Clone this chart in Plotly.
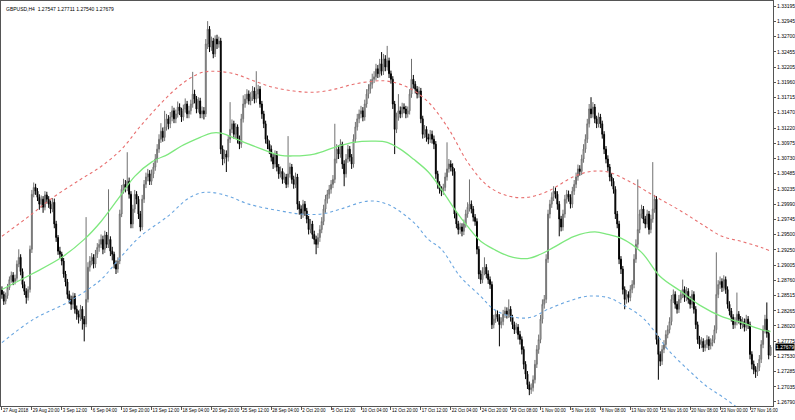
import plotly.graph_objects as go

# ---------------- data (GBPUSD H4) ----------------
opens = [
1.2860,1.2853,1.2842,1.2851,1.2864,1.2877,1.2884,1.2874,1.2879,1.2902,
1.2913,1.2890,1.2869,1.2858,1.2848,1.2861,1.2926,1.3015,1.3026,1.3020,
1.3010,1.2999,1.3007,1.2994,1.3014,1.3007,1.2999,1.2991,1.3002,1.2967,
1.2945,1.2923,1.2918,1.2907,1.2886,1.2873,1.2853,1.2845,1.2837,1.2850,
1.2829,1.2821,1.2816,1.2829,1.2813,1.2805,1.2845,1.2897,1.2907,1.2913,
1.2902,1.2918,1.2929,1.2934,1.2942,1.2926,1.2949,1.2934,1.2942,1.2923,
1.2918,1.2902,1.2894,1.2907,1.2983,1.3023,1.3031,1.3026,1.3036,1.3015,
1.2967,1.2991,1.3015,1.3007,1.2983,1.2962,1.3007,1.3031,1.3043,1.3048,
1.3036,1.3048,1.3059,1.3072,1.3088,1.3104,1.3117,1.3107,1.3124,1.3137,
1.3129,1.3140,1.3150,1.3137,1.3145,1.3156,1.3150,1.3140,1.3153,1.3161,
1.3145,1.3150,1.3161,1.3177,1.3169,1.3153,1.3166,1.3145,1.3150,1.3145,
1.3258,1.3282,1.3253,1.3263,1.3242,1.3266,1.3258,1.3263,1.3088,1.3072,
1.3080,1.3075,1.3104,1.3120,1.3129,1.3112,1.3124,1.3104,1.3096,1.3137,
1.3161,1.3169,1.3177,1.3166,1.3172,1.3182,1.3169,1.3177,1.3185,1.3161,
1.3145,1.3129,1.3104,1.3096,1.3088,1.3075,1.3064,1.3080,1.3059,1.3048,
1.3052,1.3039,1.3043,1.3031,1.3048,1.3059,1.3039,1.3031,1.3043,1.2999,
1.2991,1.2983,1.2999,1.2988,1.2975,1.2958,1.2967,1.2950,1.2942,1.2934,
1.2945,1.2958,1.2971,1.2991,1.3007,1.3015,1.3023,1.3031,1.3039,1.3072,
1.3088,1.3080,1.3096,1.3064,1.3048,1.3072,1.3088,1.3075,1.3064,1.3104,
1.3124,1.3137,1.3145,1.3150,1.3140,1.3161,1.3177,1.3185,1.3193,1.3201,
1.3205,1.3218,1.3210,1.3226,1.3214,1.3234,1.3221,1.3231,1.3210,1.3201,
1.3161,1.3120,1.3140,1.3150,1.3145,1.3156,1.3153,1.3145,1.3150,1.3177,
1.3201,1.3193,1.3185,1.3177,1.3182,1.3137,1.3112,1.3120,1.3107,1.3104,
1.3112,1.3104,1.3096,1.3048,1.3031,1.3023,1.3020,1.3026,1.3043,1.3056,
1.3064,1.3059,1.3052,1.2983,1.2967,1.2958,1.2962,1.2955,1.2967,1.2983,
1.2994,1.2999,1.2991,1.2978,1.2971,1.2926,1.2886,1.2877,1.2890,1.2897,
1.2886,1.2877,1.2869,1.2804,1.2813,1.2821,1.2816,1.2804,1.2809,1.2821,
1.2826,1.2821,1.2829,1.2816,1.2804,1.2796,1.2800,1.2788,1.2780,1.2764,
1.2740,1.2724,1.2707,1.2699,1.2702,1.2715,1.2740,1.2764,1.2780,1.2813,
1.2837,1.2845,1.2910,1.2983,1.2999,1.3010,1.3020,1.3015,1.2999,1.2975,
1.2962,1.2983,1.3007,1.3015,1.3010,1.2999,1.3020,1.3031,1.3043,1.3056,
1.3052,1.3072,1.3088,1.3104,1.3129,1.3153,1.3145,1.3156,1.3137,1.3129,
1.3140,1.3129,1.3112,1.3088,1.3072,1.3059,1.3043,1.3036,1.3023,1.2983,
1.2967,1.2910,1.2894,1.2861,1.2845,1.2853,1.2848,1.2861,1.2869,1.2910,
1.2934,1.2958,1.2983,1.2991,1.2975,1.2967,1.2983,1.2958,1.2975,1.2991,
1.3007,1.2780,1.2756,1.2745,1.2764,1.2772,1.2788,1.2796,1.2809,1.2845,
1.2853,1.2837,1.2829,1.2845,1.2853,1.2861,1.2848,1.2858,1.2845,1.2837,
1.2853,1.2829,1.2804,1.2780,1.2772,1.2777,1.2767,1.2772,1.2780,1.2770,
1.2775,1.2780,1.2796,1.2853,1.2869,1.2874,1.2864,1.2877,1.2861,1.2837,
1.2826,1.2816,1.2804,1.2809,1.2821,1.2813,1.2804,1.2809,1.2800,1.2813,
1.2804,1.2756,1.2740,1.2731,1.2728,1.2735,1.2748,1.2772,1.2796,1.2813,
1.2790,1.27547]

highs = [
1.2866,1.2858,1.2856,1.2870,1.2882,1.2890,1.2889,1.2885,1.2908,1.2926,
1.2918,1.2895,1.2874,1.2863,1.2866,1.2932,1.3022,1.3034,1.3032,1.3025,
1.3015,1.3013,1.3012,1.3020,1.3019,1.3012,1.3005,1.3009,1.3008,1.2972,
1.2949,1.2930,1.2922,1.2912,1.2891,1.2878,1.2859,1.2851,1.2856,1.2855,
1.2835,1.2827,1.2836,1.2834,1.2818,1.2978,1.2905,1.2915,1.2920,1.2918,
1.2925,1.2936,1.2942,1.2950,1.2948,1.2956,1.2954,1.3023,1.2947,1.2930,
1.2922,1.2908,1.2913,1.2990,1.3030,1.3040,1.3038,1.3083,1.3042,1.3020,
1.2998,1.3022,1.3020,1.3012,1.2988,1.3014,1.3038,1.3050,1.3056,1.3054,
1.3055,1.3066,1.3080,1.3096,1.3112,1.3130,1.3123,1.3150,1.3145,1.3143,
1.3148,1.3158,1.3155,1.3152,1.3165,1.3162,1.3155,1.3160,1.3170,1.3166,
1.3158,1.3168,1.3213,1.3184,1.3174,1.3172,1.3171,1.3157,1.3156,1.3266,
1.3295,1.3287,1.3270,1.3268,1.3272,1.3273,1.3270,1.3268,1.3094,1.3087,
1.3086,1.3110,1.3164,1.3136,1.3134,1.3130,1.3128,1.3110,1.3145,1.3175,
1.3177,1.3185,1.3183,1.3180,1.3190,1.3188,1.3214,1.3192,1.3190,1.3166,
1.3150,1.3134,1.3110,1.3102,1.3094,1.3080,1.3086,1.3085,1.3064,1.3060,
1.3057,1.3050,1.3048,1.3109,1.3066,1.3064,1.3045,1.3050,1.3048,1.3004,
1.2997,1.3006,1.3004,1.2993,1.2980,1.2975,1.2972,1.2956,1.2948,1.2952,
1.2965,1.2978,1.2998,1.3014,1.3022,1.3030,1.3038,1.3046,1.3129,1.3096,
1.3094,1.3104,1.3100,1.3070,1.3080,1.3095,1.3093,1.3080,1.3112,1.3132,
1.3145,1.3152,1.3158,1.3156,1.3168,1.3185,1.3193,1.3201,1.3210,1.3214,
1.3226,1.3224,1.3234,1.3245,1.3242,1.3240,1.3255,1.3236,1.3215,1.3206,
1.3166,1.3147,1.3177,1.3157,1.3163,1.3162,1.3158,1.3157,1.3185,1.3234,
1.3208,1.3198,1.3190,1.3189,1.3187,1.3142,1.3127,1.3125,1.3113,1.3119,
1.3118,1.3110,1.3101,1.3053,1.3036,1.3028,1.3032,1.3050,1.3099,1.3072,
1.3070,1.3065,1.3057,1.2988,1.2972,1.2969,1.2968,1.2974,1.2990,1.3002,
1.3039,1.3005,1.2996,1.2983,1.2976,1.2931,1.2892,1.2897,1.2913,1.2902,
1.2892,1.2882,1.2874,1.2820,1.2828,1.2827,1.2821,1.2816,1.2828,1.2833,
1.2832,1.2845,1.2834,1.2820,1.2809,1.2807,1.2805,1.2794,1.2785,1.2769,
1.2745,1.2729,1.2712,1.2709,1.2722,1.2747,1.2771,1.2788,1.2820,1.2845,
1.2852,1.2918,1.2990,1.3006,1.3018,1.3028,1.3026,1.3020,1.3004,1.2980,
1.2990,1.3014,1.3022,1.3021,1.3015,1.3027,1.3038,1.3050,1.3063,1.3062,
1.3079,1.3096,1.3112,1.3137,1.3161,1.3172,1.3164,1.3161,1.3142,1.3147,
1.3145,1.3134,1.3117,1.3093,1.3078,1.3064,1.3049,1.3041,1.3028,1.2988,
1.2972,1.2915,1.2899,1.2866,1.2860,1.2858,1.2868,1.2876,1.2918,1.2942,
1.3039,1.2990,1.2998,1.2996,1.2980,1.2990,1.2988,1.2982,1.3067,1.3014,
1.3012,1.2786,1.2761,1.2771,1.2779,1.2795,1.2803,1.2816,1.2852,1.2861,
1.2858,1.2842,1.2852,1.2860,1.2877,1.2866,1.2865,1.2863,1.2850,1.2860,
1.2858,1.2834,1.2809,1.2786,1.2784,1.2782,1.2779,1.2787,1.2785,1.2782,
1.2787,1.2803,1.2921,1.2876,1.2882,1.2879,1.2884,1.2882,1.2866,1.2842,
1.2831,1.2821,1.2816,1.2856,1.2826,1.2818,1.2816,1.2814,1.2820,1.2818,
1.2809,1.2761,1.2746,1.2737,1.2742,1.2755,1.2779,1.2803,1.2820,1.2840,
1.2795,1.27711]

lows = [
1.2846,1.2836,1.2837,1.2846,1.2860,1.2872,1.2868,1.2869,1.2875,1.2897,
1.2884,1.2863,1.2852,1.2838,1.2843,1.2856,1.2920,1.3010,1.3014,1.3004,
1.2990,1.2993,1.2985,1.2989,1.3000,1.2993,1.2984,1.2986,1.2960,1.2938,
1.2917,1.2911,1.2900,1.2880,1.2866,1.2846,1.2838,1.2828,1.2830,1.2822,
1.2812,1.2806,1.2810,1.2796,1.2777,1.2800,1.2840,1.2890,1.2900,1.2895,
1.2896,1.2912,1.2922,1.2928,1.2918,1.2920,1.2928,1.2928,1.2915,1.2908,
1.2895,1.2886,1.2888,1.2902,1.2978,1.3016,1.3018,1.3020,1.3008,1.2960,
1.2960,1.2985,1.2999,1.2975,1.2955,1.2957,1.3001,1.3025,1.3036,1.3030,
1.3030,1.3041,1.3053,1.3066,1.3082,1.3098,1.3100,1.3101,1.3118,1.3120,
1.3122,1.3133,1.3130,1.3130,1.3139,1.3143,1.3132,1.3134,1.3147,1.3138,
1.3138,1.3144,1.3155,1.3162,1.3146,1.3147,1.3138,1.3138,1.3136,1.3140,
1.3250,1.3245,1.3247,1.3235,1.3237,1.3250,1.3252,1.3080,1.3062,1.3065,
1.3051,1.3068,1.3098,1.3114,1.3105,1.3106,1.3097,1.3088,1.3090,1.3131,
1.3155,1.3162,1.3160,1.3159,1.3166,1.3162,1.3163,1.3170,1.3155,1.3137,
1.3122,1.3097,1.3088,1.3080,1.3068,1.3056,1.3058,1.3052,1.3040,1.3042,
1.3032,1.3033,1.3025,1.3026,1.3042,1.3032,1.3024,1.3025,1.2990,1.2982,
1.2975,1.2977,1.2980,1.2968,1.2950,1.2952,1.2943,1.2934,1.2918,1.2928,
1.2938,1.2952,1.2965,1.2985,1.3000,1.3008,1.3016,1.3025,1.3033,1.3065,
1.3072,1.3074,1.3056,1.3028,1.3042,1.3066,1.3068,1.3056,1.3058,1.3098,
1.3118,1.3130,1.3138,1.3133,1.3134,1.3155,1.3170,1.3178,1.3186,1.3195,
1.3199,1.3203,1.3204,1.3207,1.3208,1.3214,1.3215,1.3203,1.3194,1.3153,
1.3080,1.3114,1.3134,1.3138,1.3139,1.3146,1.3138,1.3139,1.3144,1.3171,
1.3186,1.3178,1.3170,1.3171,1.3130,1.3105,1.3106,1.3100,1.3096,1.3098,
1.3097,1.3088,1.3040,1.3024,1.3016,1.3012,1.3014,1.3020,1.3037,1.3050,
1.3052,1.3045,1.2976,1.2960,1.2950,1.2951,1.2947,1.2949,1.2961,1.2977,
1.2987,1.2984,1.2971,1.2964,1.2918,1.2878,1.2870,1.2871,1.2884,1.2879,
1.2870,1.2862,1.2797,1.2798,1.2807,1.2809,1.2769,1.2798,1.2803,1.2815,
1.2814,1.2815,1.2809,1.2797,1.2789,1.2790,1.2780,1.2772,1.2756,1.2732,
1.2716,1.2700,1.2690,1.2692,1.2696,1.2709,1.2734,1.2757,1.2774,1.2806,
1.2830,1.2839,1.2904,1.2976,1.2993,1.3004,1.3008,1.2990,1.2947,1.2955,
1.2956,1.2977,1.3000,1.3003,1.2992,1.2993,1.3014,1.3025,1.3037,1.3045,
1.3046,1.3066,1.3082,1.3098,1.3123,1.3138,1.3139,1.3130,1.3122,1.3123,
1.3122,1.3105,1.3080,1.3065,1.3052,1.3036,1.3028,1.3016,1.2975,1.2960,
1.2902,1.2886,1.2853,1.2829,1.2838,1.2840,1.2842,1.2855,1.2863,1.2904,
1.2928,1.2952,1.2976,1.2968,1.2960,1.2961,1.2950,1.2952,1.2969,1.2985,
1.2772,1.2715,1.2737,1.2739,1.2758,1.2766,1.2782,1.2790,1.2803,1.2839,
1.2830,1.2822,1.2823,1.2839,1.2847,1.2841,1.2842,1.2838,1.2830,1.2831,
1.2822,1.2797,1.2773,1.2765,1.2766,1.2760,1.2761,1.2766,1.2763,1.2764,
1.2769,1.2774,1.2790,1.2847,1.2862,1.2857,1.2858,1.2854,1.2830,1.2819,
1.2809,1.2797,1.2798,1.2803,1.2806,1.2797,1.2798,1.2793,1.2794,1.2797,
1.2748,1.2732,1.2724,1.2718,1.2721,1.2729,1.2742,1.2766,1.2790,1.2783,
1.2748,1.27540]

closes = [
1.2853,1.2842,1.2851,1.2864,1.2877,1.2884,1.2874,1.2879,1.2902,1.2913,
1.2890,1.2869,1.2858,1.2848,1.2861,1.2926,1.3015,1.3026,1.3020,1.3010,
1.2999,1.3007,1.2994,1.3014,1.3007,1.2999,1.2991,1.3002,1.2967,1.2945,
1.2923,1.2918,1.2907,1.2886,1.2873,1.2853,1.2845,1.2837,1.2850,1.2829,
1.2821,1.2816,1.2829,1.2813,1.2805,1.2845,1.2897,1.2907,1.2913,1.2902,
1.2918,1.2929,1.2934,1.2942,1.2926,1.2949,1.2934,1.2942,1.2923,1.2918,
1.2902,1.2894,1.2907,1.2983,1.3023,1.3031,1.3026,1.3036,1.3015,1.2967,
1.2991,1.3015,1.3007,1.2983,1.2962,1.3007,1.3031,1.3043,1.3048,1.3036,
1.3048,1.3059,1.3072,1.3088,1.3104,1.3117,1.3107,1.3124,1.3137,1.3129,
1.3140,1.3150,1.3137,1.3145,1.3156,1.3150,1.3140,1.3153,1.3161,1.3145,
1.3150,1.3161,1.3177,1.3169,1.3153,1.3166,1.3145,1.3150,1.3145,1.3258,
1.3282,1.3253,1.3263,1.3242,1.3266,1.3258,1.3263,1.3088,1.3072,1.3080,
1.3075,1.3104,1.3120,1.3129,1.3112,1.3124,1.3104,1.3096,1.3137,1.3161,
1.3169,1.3177,1.3166,1.3172,1.3182,1.3169,1.3177,1.3185,1.3161,1.3145,
1.3129,1.3104,1.3096,1.3088,1.3075,1.3064,1.3080,1.3059,1.3048,1.3052,
1.3039,1.3043,1.3031,1.3048,1.3059,1.3039,1.3031,1.3043,1.2999,1.2991,
1.2983,1.2999,1.2988,1.2975,1.2958,1.2967,1.2950,1.2942,1.2934,1.2945,
1.2958,1.2971,1.2991,1.3007,1.3015,1.3023,1.3031,1.3039,1.3072,1.3088,
1.3080,1.3096,1.3064,1.3048,1.3072,1.3088,1.3075,1.3064,1.3104,1.3124,
1.3137,1.3145,1.3150,1.3140,1.3161,1.3177,1.3185,1.3193,1.3201,1.3205,
1.3218,1.3210,1.3226,1.3214,1.3234,1.3221,1.3231,1.3210,1.3201,1.3161,
1.3120,1.3140,1.3150,1.3145,1.3156,1.3153,1.3145,1.3150,1.3177,1.3201,
1.3193,1.3185,1.3177,1.3182,1.3137,1.3112,1.3120,1.3107,1.3104,1.3112,
1.3104,1.3096,1.3048,1.3031,1.3023,1.3020,1.3026,1.3043,1.3056,1.3064,
1.3059,1.3052,1.2983,1.2967,1.2958,1.2962,1.2955,1.2967,1.2983,1.2994,
1.2999,1.2991,1.2978,1.2971,1.2926,1.2886,1.2877,1.2890,1.2897,1.2886,
1.2877,1.2869,1.2804,1.2813,1.2821,1.2816,1.2804,1.2809,1.2821,1.2826,
1.2821,1.2829,1.2816,1.2804,1.2796,1.2800,1.2788,1.2780,1.2764,1.2740,
1.2724,1.2707,1.2699,1.2702,1.2715,1.2740,1.2764,1.2780,1.2813,1.2837,
1.2845,1.2910,1.2983,1.2999,1.3010,1.3020,1.3015,1.2999,1.2975,1.2962,
1.2983,1.3007,1.3015,1.3010,1.2999,1.3020,1.3031,1.3043,1.3056,1.3052,
1.3072,1.3088,1.3104,1.3129,1.3153,1.3145,1.3156,1.3137,1.3129,1.3140,
1.3129,1.3112,1.3088,1.3072,1.3059,1.3043,1.3036,1.3023,1.2983,1.2967,
1.2910,1.2894,1.2861,1.2845,1.2853,1.2848,1.2861,1.2869,1.2910,1.2934,
1.2958,1.2983,1.2991,1.2975,1.2967,1.2983,1.2958,1.2975,1.2991,1.3007,
1.2780,1.2756,1.2745,1.2764,1.2772,1.2788,1.2796,1.2809,1.2845,1.2853,
1.2837,1.2829,1.2845,1.2853,1.2861,1.2848,1.2858,1.2845,1.2837,1.2853,
1.2829,1.2804,1.2780,1.2772,1.2777,1.2767,1.2772,1.2780,1.2770,1.2775,
1.2780,1.2796,1.2853,1.2869,1.2874,1.2864,1.2877,1.2861,1.2837,1.2826,
1.2816,1.2804,1.2809,1.2821,1.2813,1.2804,1.2809,1.2800,1.2813,1.2804,
1.2756,1.2740,1.2731,1.2728,1.2735,1.2748,1.2772,1.2796,1.2813,1.2790,
1.27547,1.27679]

# band indicator (read at bar positions)
mid_bar = [0,16,32,44,53,62,71,80,89,96,106,112,117,128,139,149,156,167,178,188,199,206,213,220,228,235,242,249,256,263,271,281,288,295,306,317,324,331,342,352,363,374,385,395,406,411]
mid_val = [1.2861,1.2886,1.2913,1.2942,1.2971,1.3007,1.3044,1.3067,1.3080,1.3093,1.3107,1.3114,1.3114,1.3101,1.3088,1.3078,1.3077,1.3080,1.3091,1.3099,1.3101,1.3099,1.3088,1.3072,1.3051,1.3023,1.2991,1.2963,1.2939,1.2926,1.2915,1.2911,1.2918,1.2929,1.2947,1.2954,1.2950,1.2944,1.2921,1.2882,1.2858,1.2834,1.2817,1.2808,1.2796,1.2793]

up_bar = [0,16,26,42,53,64,74,85,96,106,113,124,135,145,156,167,178,188,199,206,217,228,239,249,260,271,281,292,306,315,324,336,349,363,374,385,395,406,411]
up_val = [1.2947,1.2983,1.3007,1.3039,1.3060,1.3088,1.3125,1.3162,1.3193,1.3211,1.3214,1.3210,1.3198,1.3188,1.3182,1.3180,1.3185,1.3193,1.3198,1.3198,1.3188,1.3164,1.3120,1.3067,1.3028,1.3012,1.3010,1.3020,1.3044,1.3052,1.3051,1.3035,1.3012,1.2988,1.2967,1.2947,1.2939,1.2929,1.2923]

lo_bar = [0,17,35,46,53,64,74,89,99,106,112,121,132,149,160,171,181,196,206,220,228,235,245,256,263,274,283,292,303,313,324,331,342,349,356,367,377,385,395,411]
lo_val = [1.2775,1.2813,1.2840,1.2861,1.2877,1.2915,1.2947,1.2980,1.3007,1.3017,1.3018,1.3012,1.2999,1.2988,1.2983,1.2983,1.2991,1.3004,1.2999,1.2970,1.2942,1.2926,1.2882,1.2850,1.2829,1.2816,1.2816,1.2829,1.2842,1.2850,1.2848,1.2838,1.2817,1.2793,1.2764,1.2731,1.2704,1.2688,1.2667,1.2642]

price_ticks = [1.33195,1.32945,1.32700,1.32455,1.32205,1.31960,1.31715,1.31470,1.31220,1.30975,1.30730,1.30485,1.30235,1.29990,1.29745,1.29500,1.29250,1.29005,1.28760,1.28515,1.28265,1.28020,1.27775,1.27530,1.27285,1.27035,1.26790]
time_labels = ["27 Aug 2018","29 Aug 20:00","3 Sep 12:00","6 Sep 04:00","10 Sep 20:00","13 Sep 12:00","18 Sep 04:00","20 Sep 20:00","25 Sep 12:00","28 Sep 04:00","2 Oct 20:00","5 Oct 12:00","10 Oct 04:00","12 Oct 20:00","17 Oct 12:00","22 Oct 04:00","24 Oct 20:00","29 Oct 08:00","1 Nov 00:00","5 Nov 16:00","8 Nov 08:00","13 Nov 00:00","15 Nov 16:00","20 Nov 08:00","23 Nov 00:00","27 Nov 16:00"]
label_step = 16
symbol_title = "GBPUSD,H4  1.27547 1.27711 1.27540 1.27679"
last_price = 1.27679

# ---------------- figure ----------------
bars = list(range(len(closes)))
FONT = "Liberation Sans"

fig = go.Figure()
fig.add_trace(go.Candlestick(
    x=bars, open=opens, high=highs, low=lows, close=closes,
    increasing=dict(line=dict(color="#707070", width=1), fillcolor="#d8d8d8"),
    decreasing=dict(line=dict(color="#000000", width=1), fillcolor="#000000"),
    whiskerwidth=0, showlegend=False, hoverinfo="skip"))

fig.add_trace(go.Scatter(x=up_bar, y=up_val, mode="lines",
    line=dict(color="#e87070", width=1.1, dash="dot", shape="spline"), showlegend=False))
fig.add_trace(go.Scatter(x=lo_bar, y=lo_val, mode="lines",
    line=dict(color="#6aa6e0", width=1.1, dash="dot", shape="spline"), showlegend=False))
fig.add_trace(go.Scatter(x=mid_bar, y=mid_val, mode="lines",
    line=dict(color="#7ee87e", width=1.3, shape="spline"), showlegend=False))

tick_pos = [i * label_step for i in range(len(time_labels))]

fig.update_layout(
    width=795, height=420,
    margin=dict(l=1, r=22, t=1, b=14),
    paper_bgcolor="white", plot_bgcolor="white",
    font=dict(family=FONT, size=5, color="black"),
    xaxis=dict(range=[-0.5, 412.3], rangeslider=dict(visible=False),
               showgrid=False, zeroline=False, automargin=False,
               tickmode="array", tickvals=tick_pos, ticktext=time_labels,
               tickangle=0,
               ticks="outside", ticklen=3, tickcolor="#555",
               ticklabelposition="outside right",
               showline=True, linecolor="#555", linewidth=1, mirror=True,
               tickfont=dict(size=4.5, family=FONT)),
    yaxis=dict(range=[1.26725, 1.33276], side="right",
               showgrid=False, zeroline=False, automargin=False,
               tickmode="array", tickvals=price_ticks,
               ticktext=[f"{v:.5f}" for v in price_ticks],
               ticks="outside", ticklen=2, tickcolor="#555",
               showline=True, linecolor="#555", linewidth=1, mirror=True,
               tickfont=dict(size=5, family=FONT)),
    annotations=[
        dict(xref="paper", yref="paper", x=0, y=1, xanchor="left", yanchor="top",
             text=symbol_title, showarrow=False, xshift=3, yshift=-3,
             font=dict(size=5, family=FONT, color="black")),
        dict(xref="paper", yref="y", x=1, y=last_price, xanchor="left", yanchor="middle",
             text=f"{last_price:.5f}", showarrow=False, bgcolor="black", xshift=2,
             borderpad=0, font=dict(size=5, family=FONT, color="white")),
    ],
)

fig.write_html("out.html",
               config={"displayModeBar": False},
               post_script="document.body.style.margin='0';document.body.style.overflow='hidden';")
